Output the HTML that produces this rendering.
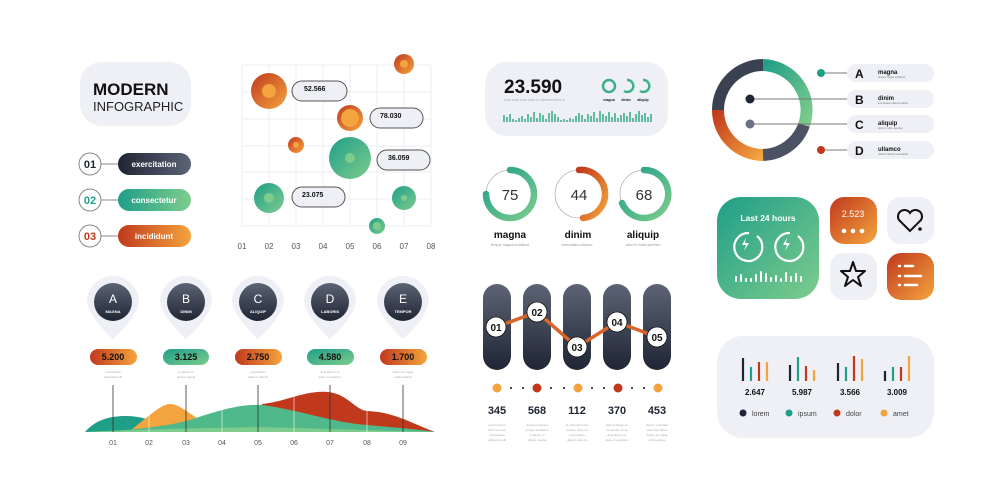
<!DOCTYPE html>
<html><head><meta charset="utf-8"><style>
html,body{margin:0;padding:0;background:#fff;}
svg{display:block;font-family:"Liberation Sans",sans-serif;}
</style></head><body>
<svg width="1000" height="489" viewBox="0 0 1000 489" xmlns="http://www.w3.org/2000/svg">
<defs>
<linearGradient id="dk" x1="0" y1="0" x2="1" y2="0"><stop offset="0" stop-color="#1f2533"/><stop offset="1" stop-color="#5c6475"/></linearGradient>
<linearGradient id="dkv" x1="0" y1="0" x2="0" y2="1"><stop offset="0" stop-color="#5c6475"/><stop offset="1" stop-color="#1f2533"/></linearGradient>
<linearGradient id="gr" x1="0" y1="0" x2="1" y2="0"><stop offset="0" stop-color="#1f9e88"/><stop offset="1" stop-color="#7dcc8c"/></linearGradient>
<linearGradient id="or" x1="0" y1="0" x2="1" y2="0"><stop offset="0" stop-color="#c0391d"/><stop offset="1" stop-color="#f4a43e"/></linearGradient>
<linearGradient id="or2" x1="0" y1="0" x2="1" y2="1"><stop offset="0" stop-color="#c0391d"/><stop offset="1" stop-color="#f4a43e"/></linearGradient>
<linearGradient id="gr2" x1="0" y1="0" x2="1" y2="1"><stop offset="0" stop-color="#1f9e88"/><stop offset="1" stop-color="#7dcc8c"/></linearGradient>
</defs>

<!-- MODERN box -->
<rect x="80" y="62" width="111" height="64" rx="22" fill="#eef0f6"/>
<text x="93" y="95" font-size="17" font-weight="bold" fill="#111">MODERN</text>
<text x="93" y="111" font-size="13" fill="#222">INFOGRAPHIC</text>
<g font-size="11" font-weight="bold">
<line x1="101" y1="164" x2="120" y2="164" stroke="#888"/><circle cx="90" cy="164" r="11" fill="#fff" stroke="#888"/><text x="90" y="168" text-anchor="middle" fill="#1f2533">01</text>
<rect x="118" y="153" width="73" height="22" rx="11" fill="url(#dk)"/><text x="154" y="167" text-anchor="middle" fill="#fff" font-size="8">exercitation</text>
<line x1="101" y1="200" x2="120" y2="200" stroke="#888"/><circle cx="90" cy="200" r="11" fill="#fff" stroke="#888"/><text x="90" y="204" text-anchor="middle" fill="#1f9e88">02</text>
<rect x="118" y="189" width="73" height="22" rx="11" fill="url(#gr)"/><text x="154" y="203" text-anchor="middle" fill="#fff" font-size="8">consectetur</text>
<line x1="101" y1="236" x2="120" y2="236" stroke="#888"/><circle cx="90" cy="236" r="11" fill="#fff" stroke="#888"/><text x="90" y="240" text-anchor="middle" fill="#c0391d">03</text>
<rect x="118" y="225" width="73" height="22" rx="11" fill="url(#or)"/><text x="154" y="239" text-anchor="middle" fill="#fff" font-size="8">incididunt</text>
</g>

<!-- bubble grid -->
<g stroke="#eceef2" stroke-width="1">
<line x1="242" y1="65" x2="431" y2="65"/><line x1="242" y1="92" x2="431" y2="92"/><line x1="242" y1="119" x2="431" y2="119"/><line x1="242" y1="146" x2="431" y2="146"/><line x1="242" y1="172" x2="431" y2="172"/><line x1="242" y1="199" x2="431" y2="199"/><line x1="242" y1="226" x2="431" y2="226"/>
<line x1="242" y1="65" x2="242" y2="226"/><line x1="269" y1="65" x2="269" y2="226"/><line x1="296" y1="65" x2="296" y2="226"/><line x1="323" y1="65" x2="323" y2="226"/><line x1="350" y1="65" x2="350" y2="226"/><line x1="377" y1="65" x2="377" y2="226"/><line x1="404" y1="65" x2="404" y2="226"/><line x1="431" y1="65" x2="431" y2="226"/>
</g>
<g font-size="8" fill="#555" text-anchor="middle">
<text x="242" y="249">01</text><text x="269" y="249">02</text><text x="296" y="249">03</text><text x="323" y="249">04</text><text x="350" y="249">05</text><text x="377" y="249">06</text><text x="404" y="249">07</text><text x="431" y="249">08</text>
</g>
<circle cx="269" cy="91" r="18" fill="url(#or2)"/><circle cx="269" cy="91" r="7" fill="#f4a43e"/>
<circle cx="404" cy="64" r="10" fill="url(#or2)"/><circle cx="404" cy="64" r="4" fill="#f4a43e"/>
<circle cx="350" cy="118" r="13" fill="url(#or2)"/><circle cx="350" cy="118" r="9" fill="#f4a43e"/>
<circle cx="296" cy="145" r="8" fill="url(#or2)"/><circle cx="296" cy="145" r="3" fill="#f4a43e"/>
<circle cx="350" cy="158" r="21" fill="url(#gr2)"/><circle cx="350" cy="158" r="5" fill="#7dcc8c"/>
<circle cx="269" cy="198" r="15" fill="url(#gr2)"/><circle cx="269" cy="198" r="5" fill="#7dcc8c"/>
<circle cx="404" cy="198" r="12" fill="url(#gr2)"/><circle cx="404" cy="198" r="3" fill="#7dcc8c"/>
<circle cx="377" cy="226" r="8" fill="url(#gr2)"/><circle cx="377" cy="226" r="4" fill="#7dcc8c"/>
<g font-size="7" font-weight="bold" fill="#111">
<rect x="292" y="81" width="55" height="20" rx="10" fill="#eef0f6" stroke="#555"/><text x="304" y="91">52.566</text>
<rect x="370" y="108" width="53" height="20" rx="10" fill="#eef0f6" stroke="#555"/><text x="380" y="118">78.030</text>
<rect x="377" y="150" width="53" height="20" rx="10" fill="#eef0f6" stroke="#555"/><text x="388" y="160">36.059</text>
<rect x="292" y="187" width="53" height="20" rx="10" fill="#eef0f6" stroke="#555"/><text x="302" y="197">23.075</text>
</g>

<!-- 23.590 box -->
<rect x="485" y="62" width="183" height="74" rx="22" fill="#eef0f6"/>
<text x="504" y="93" font-size="19" font-weight="bold" fill="#111">23.590</text>
<text x="504" y="101" font-size="3.5" fill="#aaa">Duis aute irure dolor in reprehenderit in</text>
<g fill="none" stroke-width="2.5">
<circle cx="609" cy="86" r="6" stroke="#3fae8a"/>
<path d="M627 80 A6 6 0 1 1 624 91" stroke="#3fae8a"/>
<path d="M643 80 A6 6 0 1 1 640 91" stroke="#3fae8a"/>
</g>
<g font-size="3.5" font-weight="bold" fill="#222" text-anchor="middle"><text x="609" y="101">magna</text><text x="626" y="101">dinim</text><text x="643" y="101">aliquip</text></g>
<g stroke="#3fae8a" stroke-width="1.6">
<path d="M504 122v-7M507 122v-5M510 122v-8M513 122v-3M516 122v-2M519 122v-4M522 122v-6M525 122v-3M528 122v-8M531 122v-5M534 122v-10M537 122v-4M540 122v-9M543 122v-7M546 122v-3M549 122v-9M552 122v-11M555 122v-8M558 122v-5M561 122v-2M564 122v-3M567 122v-2M570 122v-4M573 122v-3M576 122v-6M579 122v-9M582 122v-7M585 122v-3M588 122v-8M591 122v-6M594 122v-10M597 122v-4M600 122v-11M603 122v-8M606 122v-6M609 122v-10M612 122v-5M615 122v-9M618 122v-4M621 122v-7M624 122v-9M627 122v-6M630 122v-10M633 122v-4M636 122v-8M639 122v-11M642 122v-7M645 122v-9M648 122v-5M651 122v-8"/>
</g>

<!-- rings -->
<g fill="none" stroke-width="6.5" stroke-linecap="round">
<circle cx="510" cy="194" r="24" stroke="#999" stroke-width="0.6"/>
<path d="M510 170 A24 24 0 1 1 486 194" stroke="url(#gr2)"/>
<circle cx="579" cy="194" r="24" stroke="#999" stroke-width="0.6"/>
<path d="M579 170 A24 24 0 0 1 583 218" stroke="url(#or2)"/>
<circle cx="644" cy="194" r="24" stroke="#999" stroke-width="0.6"/>
<path d="M644 170 A24 24 0 1 1 622 203" stroke="url(#gr2)"/>
</g>
<g font-size="15" fill="#333" text-anchor="middle"><text x="510" y="200">75</text><text x="579" y="200">44</text><text x="644" y="200">68</text></g>
<g font-size="10" font-weight="bold" fill="#111" text-anchor="middle"><text x="510" y="238">magna</text><text x="578" y="238">dinim</text><text x="643" y="238">aliquip</text></g>
<g font-size="3.5" fill="#999" text-anchor="middle"><text x="510" y="246">tempor magna incididunt</text><text x="577" y="246">exercitation ullamco</text><text x="643" y="246">dolor in nulla reprehen</text></g>

<!-- donut -->
<g fill="none" stroke-width="12">
<path d="M763 65 A45 45 0 0 1 804 125" stroke="url(#gr2)"/>
<path d="M804 125 A45 45 0 0 1 763 155" stroke="#4a5263"/>
<path d="M763 155 A45 45 0 0 1 718 110" stroke="url(#or2)"/>
<path d="M718 110 A45 45 0 0 1 763 65" stroke="#3a4252"/>
</g>
<g stroke="#777" stroke-width="1">
<line x1="822" y1="73" x2="848" y2="73"/><line x1="750" y1="99" x2="848" y2="99"/><line x1="750" y1="124" x2="848" y2="124"/><line x1="822" y1="150" x2="848" y2="150"/>
</g>
<circle cx="821" cy="73" r="4" fill="#1f9e88"/><circle cx="750" cy="99" r="4.5" fill="#1f2533"/><circle cx="750" cy="124" r="4.5" fill="#6b7385"/><circle cx="821" cy="150" r="4" fill="#c0391d"/>
<g>
<rect x="847" y="64" width="87" height="18" rx="9" fill="#eef0f6"/><rect x="847" y="90" width="87" height="18" rx="9" fill="#eef0f6"/><rect x="847" y="115" width="87" height="18" rx="9" fill="#eef0f6"/><rect x="847" y="141" width="87" height="18" rx="9" fill="#eef0f6"/>
</g>
<g font-size="12" font-weight="bold" fill="#111"><text x="855" y="78">A</text><text x="855" y="104">B</text><text x="855" y="129">C</text><text x="855" y="155">D</text></g>
<g font-size="6" font-weight="bold" fill="#111"><text x="878" y="74">magna</text><text x="878" y="100">dinim</text><text x="878" y="125">aliquip</text><text x="878" y="151">ullamco</text></g>
<g font-size="2.5" fill="#777"><text x="878" y="78">tempor magna incididunt</text><text x="878" y="104">exercitation ullamco laboris</text><text x="878" y="129">dolor in nulla reprehen</text><text x="878" y="155">ullamco laboris exercitation</text></g>

<!-- green box -->
<rect x="717" y="197" width="102" height="102" rx="24" fill="url(#gr2)"/>
<text x="768" y="221" text-anchor="middle" font-size="8.5" font-weight="bold" fill="#fff">Last 24 hours</text>
<g fill="none" stroke="#fff" stroke-width="2.2">
<path d="M749 233 A14 14 0 1 0 757 236"/><path d="M790 233 A14 14 0 1 0 798 236"/>
</g>
<path d="M746 238 l-4 7 h4 l-2 6 l5 -8 h-4 z" fill="#fff"/><path d="M787 238 l-4 7 h4 l-2 6 l5 -8 h-4 z" fill="#fff"/>
<g stroke="#fff" stroke-width="2" stroke-linecap="round">
<path d="M736 281v-4M741 281v-6M746 281v-2M751 281v-2M756 281v-6M761 281v-9M766 281v-7M771 281v-3M776 281v-5M781 281v-2M786 281v-8M791 281v-4M796 281v-7M801 281v-4"/>
</g>
<rect x="830" y="197" width="47" height="47" rx="14" fill="url(#or2)"/>
<text x="853" y="217" text-anchor="middle" font-size="9" fill="#fff">2.523</text>
<circle cx="844" cy="231" r="2.3" fill="#fff"/><circle cx="853" cy="231" r="2.3" fill="#fff"/><circle cx="862" cy="231" r="2.3" fill="#fff"/>
<rect x="887" y="197" width="47" height="47" rx="14" fill="#eef0f6"/>
<path d="M910 231 L899 220 A5 5 0 0 1 910 213 A5 5 0 0 1 921 220 Z" fill="none" stroke="#111" stroke-width="2"/><circle cx="920" cy="229" r="1.8" fill="#111"/>
<rect x="830" y="253" width="47" height="47" rx="14" fill="#eef0f6"/>
<polygon points="853,262 856,271 865,271 858,277 861,286 853,280 845,286 848,277 841,271 850,271" fill="none" stroke="#111" stroke-width="2" stroke-linejoin="round"/>
<rect x="887" y="253" width="47" height="47" rx="14" fill="url(#or2)"/>
<g stroke="#fff" stroke-width="2.5" stroke-linecap="round"><path d="M899 266h1M905 266h8M899 276h1M905 276h16M899 285h1M905 285h12"/></g>

<!-- pins -->
<g fill="#eef0f6">
<path d="M87 302 A26 26 0 1 1 139 302 Q136 318 113 339 Q90 318 87 302 Z"/>
<path d="M160 302 A26 26 0 1 1 212 302 Q209 318 186 339 Q163 318 160 302 Z"/>
<path d="M232 302 A26 26 0 1 1 284 302 Q281 318 258 339 Q235 318 232 302 Z"/>
<path d="M304 302 A26 26 0 1 1 356 302 Q353 318 330 339 Q307 318 304 302 Z"/>
<path d="M377 302 A26 26 0 1 1 429 302 Q426 318 403 339 Q380 318 377 302 Z"/>
</g>
<g fill="url(#dkv)"><circle cx="113" cy="302" r="19"/><circle cx="186" cy="302" r="19"/><circle cx="258" cy="302" r="19"/><circle cx="330" cy="302" r="19"/><circle cx="403" cy="302" r="19"/></g>
<g fill="#fff" text-anchor="middle" font-size="12"><text x="113" y="303">A</text><text x="186" y="303">B</text><text x="258" y="303">C</text><text x="330" y="303">D</text><text x="403" y="303">E</text></g>
<g fill="#fff" text-anchor="middle" font-size="4" font-weight="bold"><text x="113" y="313">MAGNA</text><text x="186" y="313">DINIM</text><text x="258" y="313">ALIQUIP</text><text x="330" y="313">LABORIS</text><text x="403" y="313">TEMPOR</text></g>
<rect x="90" y="349" width="47" height="16" rx="8" fill="url(#or)"/>
<rect x="163" y="349" width="46" height="16" rx="8" fill="url(#gr2)"/>
<rect x="235" y="349" width="47" height="16" rx="8" fill="url(#or)"/>
<rect x="307" y="349" width="47" height="16" rx="8" fill="url(#gr2)"/>
<rect x="380" y="349" width="47" height="16" rx="8" fill="url(#or)"/>
<g font-size="9" font-weight="bold" fill="#111" text-anchor="middle"><text x="113" y="360">5.200</text><text x="186" y="360">3.125</text><text x="258" y="360">2.750</text><text x="330" y="360">4.580</text><text x="403" y="360">1.700</text></g>
<g font-size="3" fill="#aaa" text-anchor="middle"><text x="113" y="373">consectetur</text><text x="113" y="378">adipiscing elit</text><text x="186" y="373">ut labore et</text><text x="186" y="378">dolore magna</text><text x="258" y="373">exercitation</text><text x="258" y="378">ullamco laboris</text><text x="330" y="373">duis aute irure</text><text x="330" y="378">dolor in reprehen</text><text x="403" y="373">dolore eu fugiat</text><text x="403" y="378">nulla pariatur</text></g>

<!-- area chart -->
<path d="M85 432 C95 420 110 416 125 416 C140 416 150 420 160 424 L160 432 Z" fill="#1f9e88"/>
<path d="M128 432 C145 420 160 404 170 404 C182 404 195 420 215 428 L220 432 Z" fill="#f4a43e"/>
<path d="M262 404 C285 402 305 390 328 392 C348 394 355 410 367 411 C392 412 405 420 435 432 L262 432 Z" fill="#c0391d"/>
<path d="M85 432 C130 430 160 428 190 420 C220 410 240 404 262 405 C300 410 330 422 367 425 C400 428 425 430 435 432 Z" fill="#4fb98c"/>
<path d="M85 432 C120 430 200 428 260 427 L435 432 Z" fill="#7dcc8c"/>
<g stroke="#333" stroke-width="0.8"><line x1="113" y1="385" x2="113" y2="432"/><line x1="186" y1="385" x2="186" y2="432"/><line x1="258" y1="385" x2="258" y2="432"/><line x1="330" y1="385" x2="330" y2="432"/><line x1="403" y1="385" x2="403" y2="432"/></g>
<g stroke="#fff" stroke-width="0.8" opacity="0.7"><line x1="149" y1="385" x2="149" y2="432"/><line x1="222" y1="385" x2="222" y2="432"/><line x1="294" y1="385" x2="294" y2="432"/><line x1="367" y1="385" x2="367" y2="432"/></g>
<g font-size="7" fill="#555" text-anchor="middle"><text x="113" y="445">01</text><text x="149" y="445">02</text><text x="186" y="445">03</text><text x="222" y="445">04</text><text x="258" y="445">05</text><text x="294" y="445">06</text><text x="330" y="445">07</text><text x="367" y="445">08</text><text x="403" y="445">09</text></g>

<!-- vertical pills -->
<g fill="url(#dkv)">
<rect x="483" y="284" width="28" height="86" rx="14"/><rect x="523" y="284" width="28" height="86" rx="14"/><rect x="563" y="284" width="28" height="86" rx="14"/><rect x="603" y="284" width="28" height="86" rx="14"/><rect x="643" y="284" width="28" height="86" rx="14"/>
</g>
<polyline points="496,327 537,312 577,347 617,322 657,337" fill="none" stroke="#d8652b" stroke-width="3.5"/>
<g fill="#fff" stroke="#111" stroke-width="0.8"><circle cx="496" cy="327" r="10"/><circle cx="537" cy="312" r="10"/><circle cx="577" cy="347" r="10"/><circle cx="617" cy="322" r="10"/><circle cx="657" cy="337" r="10"/></g>
<g font-size="10" font-weight="bold" fill="#111" text-anchor="middle"><text x="496" y="331">01</text><text x="537" y="316">02</text><text x="577" y="351">03</text><text x="617" y="326">04</text><text x="657" y="341">05</text></g>
<g fill="#f4a43e"><circle cx="497" cy="388" r="4.5"/><circle cx="578" cy="388" r="4.5"/><circle cx="658" cy="388" r="4.5"/></g>
<g fill="#c0391d"><circle cx="537" cy="388" r="4.5"/><circle cx="618" cy="388" r="4.5"/></g>
<g fill="#111"><circle cx="511" cy="388" r="1"/><circle cx="523" cy="388" r="1"/><circle cx="551" cy="388" r="1"/><circle cx="564" cy="388" r="1"/><circle cx="592" cy="388" r="1"/><circle cx="604" cy="388" r="1"/><circle cx="632" cy="388" r="1"/><circle cx="644" cy="388" r="1"/></g>
<g font-size="11" font-weight="bold" fill="#1f2533" text-anchor="middle"><text x="497" y="414">345</text><text x="537" y="414">568</text><text x="577" y="414">112</text><text x="617" y="414">370</text><text x="657" y="414">453</text></g>
<g font-size="3" fill="#aaa" text-anchor="middle">
<text x="497" y="426">Lorem ipsum</text><text x="497" y="431">dolor sit amet</text><text x="497" y="436">consectetur</text><text x="497" y="441">adipiscing elit</text>
<text x="537" y="426">Sed do eiusmod</text><text x="537" y="431">tempor incididunt</text><text x="537" y="436">ut labore et</text><text x="537" y="441">dolore magna</text>
<text x="577" y="426">Ut enim ad minim</text><text x="577" y="431">veniam, quis nos</text><text x="577" y="436">exercitation</text><text x="577" y="441">ullamco laboris</text>
<text x="617" y="426">Nisi ut aliquip ex</text><text x="617" y="431">commodo conse</text><text x="617" y="436">duis aute irure</text><text x="617" y="441">dolor in reprehen</text>
<text x="657" y="426">dent in voluptate</text><text x="657" y="431">velit esse cillum</text><text x="657" y="436">dolore eu fugiat</text><text x="657" y="441">nulla pariatur</text>
</g>

<!-- bar box -->
<rect x="717" y="336" width="217" height="102" rx="26" fill="#eef0f6"/>
<g stroke-width="2.2">
<path d="M743 381v-23" stroke="#1f2533"/><path d="M751 381v-14" stroke="#1f9e88"/><path d="M759 381v-19" stroke="#c0391d"/><path d="M767 381v-19" stroke="#f4a43e"/>
<path d="M790 381v-16" stroke="#1f2533"/><path d="M798 381v-24" stroke="#1f9e88"/><path d="M806 381v-15" stroke="#c0391d"/><path d="M814 381v-11" stroke="#f4a43e"/>
<path d="M838 381v-18" stroke="#1f2533"/><path d="M846 381v-14" stroke="#1f9e88"/><path d="M854 381v-25" stroke="#c0391d"/><path d="M862 381v-22" stroke="#f4a43e"/>
<path d="M885 381v-10" stroke="#1f2533"/><path d="M893 381v-14" stroke="#1f9e88"/><path d="M901 381v-14" stroke="#c0391d"/><path d="M909 381v-25" stroke="#f4a43e"/>
</g>
<g font-size="8" font-weight="bold" fill="#111" text-anchor="middle"><text x="755" y="395">2.647</text><text x="802" y="395">5.987</text><text x="850" y="395">3.566</text><text x="897" y="395">3.009</text></g>
<circle cx="743" cy="413" r="3.5" fill="#1f2533"/><circle cx="789" cy="413" r="3.5" fill="#1f9e88"/><circle cx="837" cy="413" r="3.5" fill="#c0391d"/><circle cx="884" cy="413" r="3.5" fill="#f4a43e"/>
<g font-size="7" fill="#444"><text x="752" y="416">lorem</text><text x="798" y="416">ipsum</text><text x="846" y="416">dolor</text><text x="893" y="416">amet</text></g>
</svg>
</body></html>
